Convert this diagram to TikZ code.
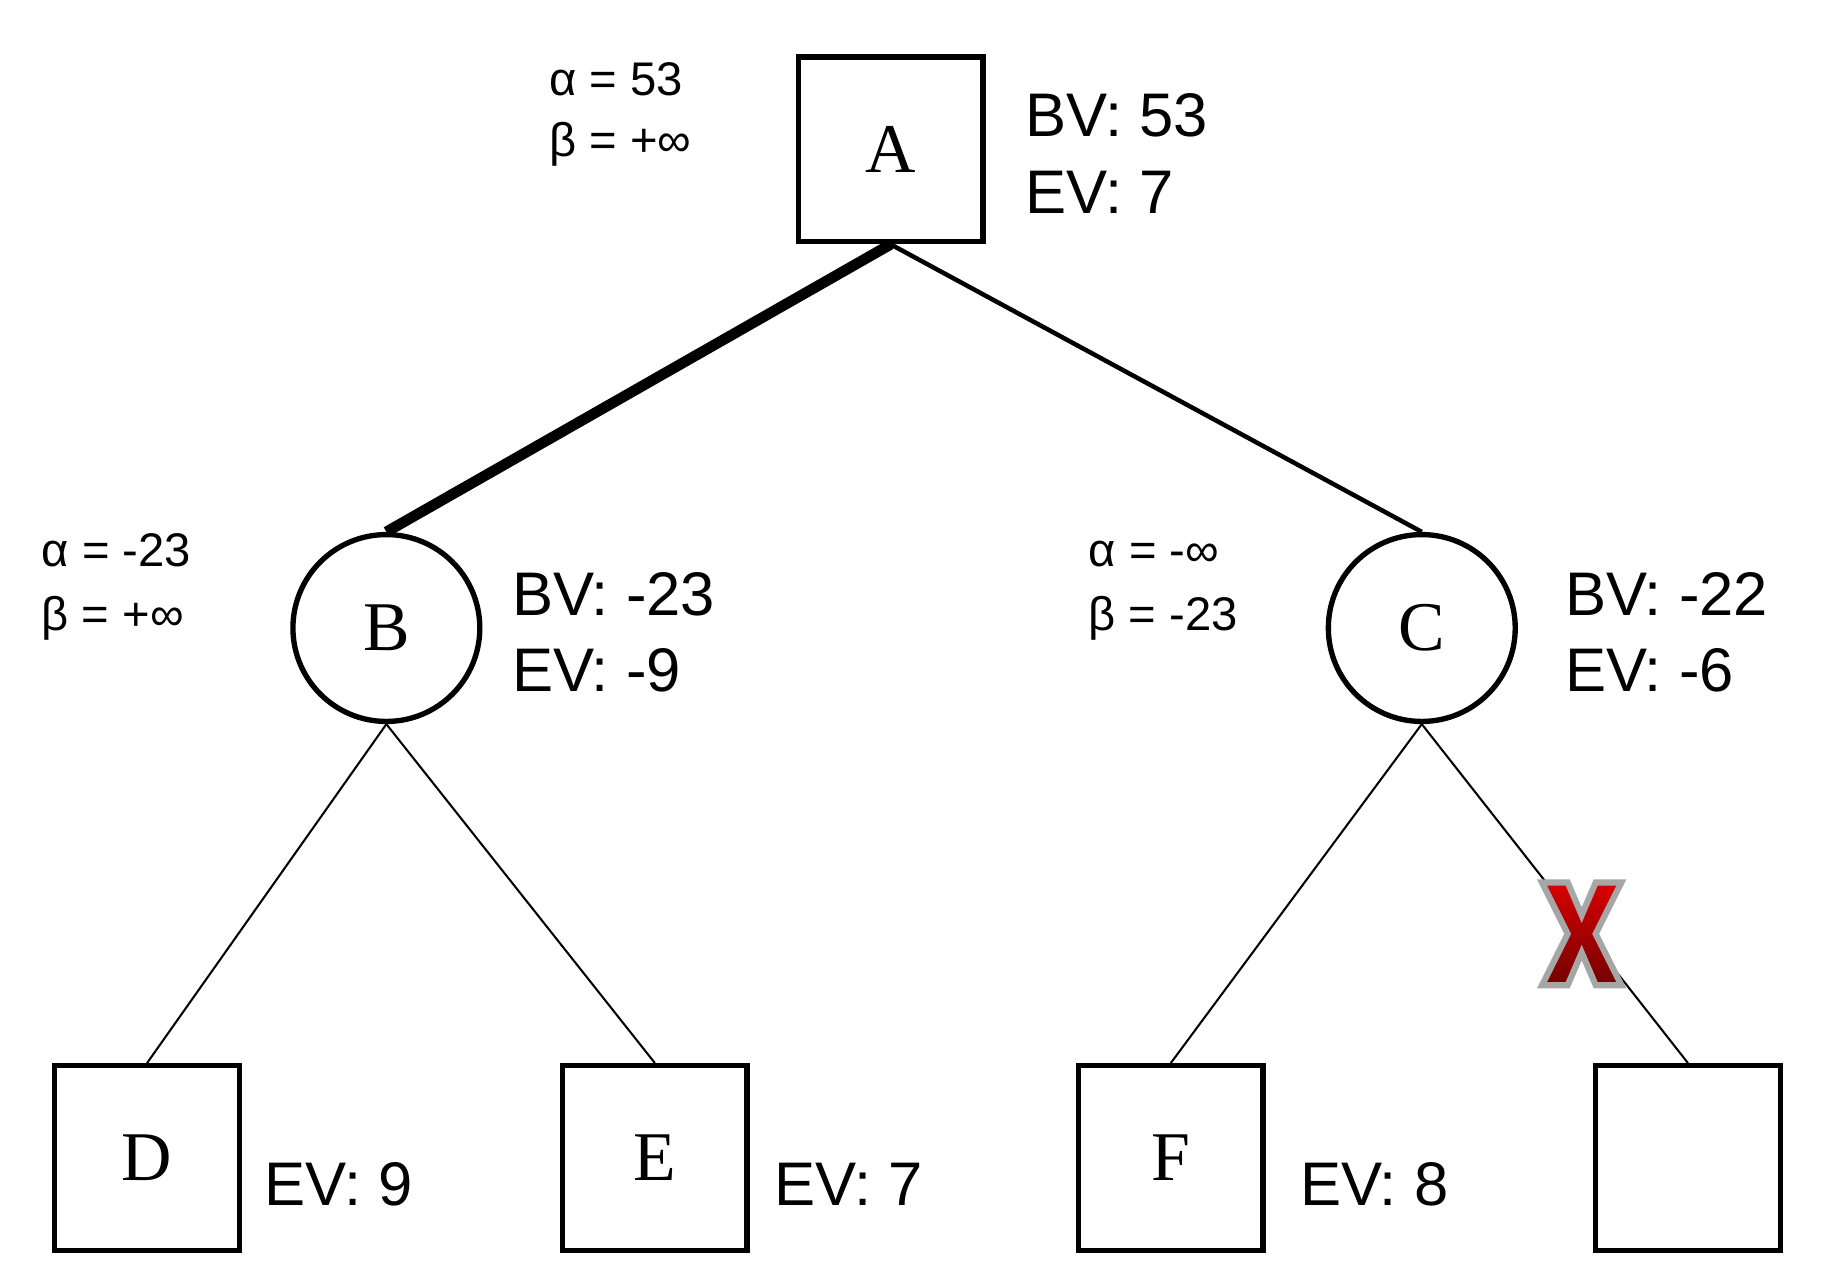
\documentclass[tikz,border=0pt]{standalone}
\usepackage{fontspec}
\setmainfont{Liberation Sans}
\newfontfamily\serf{Liberation Serif}
\begin{document}
\begin{tikzpicture}[x=0.01cm,y=-0.01cm,
  sq/.style={draw,line width=1.3pt,minimum size=1.58cm,inner sep=0,font=\serf\fontsize{17}{17}\selectfont},
  ci/.style={draw,circle,line width=1.3pt,minimum size=1.6cm,inner sep=0,font=\serf\fontsize{17}{17}\selectfont},
  big/.style={anchor=base west,inner sep=0,font=\fontsize{15}{15}\selectfont},
  sml/.style={anchor=base west,inner sep=0,font=\fontsize{11.5}{11.5}\selectfont},
  thin/.style={line width=0.5pt}]
\useasboundingbox (0,0) rectangle (1560,1097);
\node[sq] (A) at (763,128) {A};
\node[ci] (B) at (331,538) {B};
\node[ci] (C) at (1218,538) {C};
\node[sq] (D) at (126,992) {D};
\node[sq] (E) at (561,992) {E};
\node[sq] (F) at (1003,992) {F};
\node[sq] (G) at (1446,992) {};
\draw[line width=2.6pt] (A.south) -- (B.north);
\draw[line width=1.1pt] (A.south) -- (C.north);
\draw[thin] (B.south) -- (D.north);
\draw[thin] (B.south) -- (E.north);
\draw[thin] (C.south) -- (F.north);
\draw[thin] (C.south) -- (G.north);
\node[sml] (a1) at (470,82) {α = 53};
\node[sml] (b1) at (470,134) {β = +∞};
\node[big] (bv1) at (878,117) {BV: 53};
\node[big] (ev1) at (878,183) {EV: 7};
\node[sml] (a2) at (35,485) {α = -23};
\node[sml] (b2) at (35,540) {β = +∞};
\node[big] (bv2) at (438,527) {BV: -23};
\node[big] (ev2) at (438,592) {EV: -9};
\node[sml] (a3) at (932,485) {α = -∞};
\node[sml] (b3) at (932,540) {β = -23};
\node[big] (bv3) at (1340,527) {BV: -22};
\node[big] (ev3) at (1340,592) {EV: -6};
\node[big] (evd) at (226,1033) {EV: 9};
\node[big] (eve) at (663,1033) {EV: 7};
\node[big] (evf) at (1113,1033) {EV: 8};
\begin{scope}[shift={(1355,800)}]
\shade[top color=red!85!black,bottom color=red!45!black,draw=gray!70,line width=1.5pt]
 (-34,-44)--(-12,-44)--(0,-16)--(12,-44)--(34,-44)--(12,0)--(34,44)--(12,44)--(0,16)--(-12,44)--(-34,44)--(-12,0)--cycle;
\end{scope}
\end{tikzpicture}
\end{document}
